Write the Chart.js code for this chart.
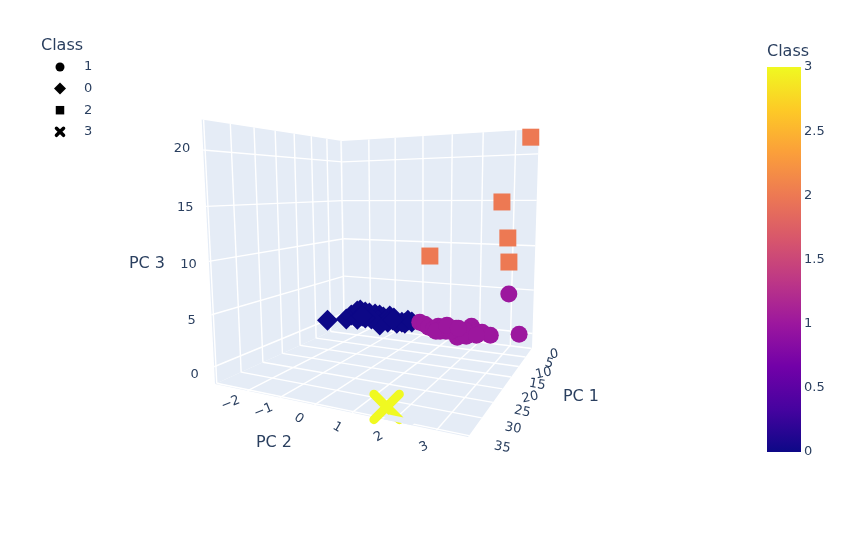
<!DOCTYPE html>
<html>
<head>
<meta charset="utf-8">
<script src="https://cdn.jsdelivr.net/npm/chart.js@4/dist/chart.umd.min.js"></script>
<style>
body { margin: 0; background: #fff; }
</style>
</head>
<body>
<canvas id="chart" width="850" height="555"></canvas>
<script>
// values: [PC 1, PC 2, PC 3]
const class1PC1 = [10.35, 10.35, 10.35, 10.35, 10.35, 10.35, 10.35, 10.35, 10.35, 10.35, 10.35, 10.35, 10.35, 10.35, 10.35, 10.35, 10.35, 10.35, 10.35, 10.35, 10.35, 10.35, 10.35, 10.35, 10.35, 10.35, 10.35, 10.35, 10.35];
const class1PC2 = [0.72, 0.88, 1.01, 1.17, 1.31, 1.46, 1.61, 1.74, 1.86, 1.90, 2.05, 2.20, 2.32, 2.38, 2.49, 2.63, 2.87, 3.67, 3.36, 1.55, 1.37, 2.11, 1.86, 1.24, 1.68, 2.17, 2.47, 1.58, 1.93];
const class1PC3 = [1.85, 1.69, 1.40, 1.24, 1.63, 1.58, 1.54, 1.48, 1.20, 0.66, 1.06, 1.01, 2.04, 1.52, 1.46, 1.52, 1.30, 1.75, 5.78, 1.18, 1.10, 1.52, 1.64, 1.05, 1.23, 0.89, 1.13, 1.85, 1.66];

const class0PC1 = [10.35, 10.35, 10.35, 10.35, 10.35, 10.35, 10.35, 10.35, 10.35, 10.35, 10.35, 10.35, 10.35, 10.35, 10.35, 10.35, 10.35, 10.35, 10.35, 10.35, 10.35, 10.35, 10.35, 10.35, 10.35];
const class0PC2 = [-2.56, -1.84, -1.65, -1.43, -1.32, -1.14, -0.99, -0.79, -0.63, -0.50, -0.69, -0.63, -0.92, -1.14, -1.43, -0.28, -0.14, -0.04, 0.13, 0.33, 0.23, -0.35, -1.25, -0.18, 0.46];
const class0PC3 = [0.83, 1.23, 1.79, 2.35, 2.51, 2.33, 2.27, 2.22, 2.16, 1.97, 1.54, 0.98, 1.58, 1.61, 1.38, 2.17, 1.99, 1.44, 1.62, 1.93, 1.55, 1.44, 1.81, 1.74, 1.76];

const class2PC1 = [3.21, 3.21, 3.21, 3.21, 3.21];
const class2PC2 = [0.52, 3.04, 2.99, 2.79, 3.57];
const class2PC3 = [8.59, 8.36, 10.99, 14.88, 21.59];

const class3PC1 = [33.56];
const class3PC2 = [1.70];
const class3PC3 = [-1.19];

const legendClasses = ["1", "0", "2", "3"];
const pc1Ticks = [0, 5, 10, 15, 20, 25, 30, 35];
const pc2Ticks = [-2, -1, 0, 1, 2, 3];
const pc3Ticks = [0, 5, 10, 15, 20];
const colorbarTicks = [0, 0.5, 1, 1.5, 2, 2.5, 3];

const pc1Range = [-0.36, 35.34];
const pc2Range = [-3.07, 3.67];
const pc3Range = [-1.69, 22.64];

const plasma = ["#0d0887", "#46039f", "#7201a8", "#9c179e", "#bd3786", "#d8576b", "#ed7953", "#fb9f3a", "#fdca26", "#f0f921"];
const ink = "#2a3f5f";
const pane = "#e5ecf6";
const sans = "'DejaVu Sans', Verdana, sans-serif";

// fixed perspective of the 3d scene, u/v/w are the box fractions
const cam = [
    [-194.67, 103.1, -18.4, 345],
    [-56.5, -31.9, -190.3, 325],
    [-0.3008, -0.1577, -0.045, 1],
];

function projectBox(u, v, w) {
    const h = cam.map((r) => r[0] * u + r[1] * v + r[2] * w + r[3]);
    return { x: h[0] / h[2], y: h[1] / h[2] };
}
const toU = (a) => (a - pc1Range[0]) / (pc1Range[1] - pc1Range[0]);
const toV = (a) => (a - pc2Range[0]) / (pc2Range[1] - pc2Range[0]);
const toW = (a) => (a - pc3Range[0]) / (pc3Range[1] - pc3Range[0]);
const project = (a, b, c) => projectBox(toU(a), toV(b), toW(c));
const cloud = (xs, ys, zs) => xs.map((a, i) => project(a, ys[i], zs[i]));

function paneSet(corners, order) {
    return {
        type: "line",
        data: corners.map((c) => projectBox(c[0], c[1], c[2])),
        fill: "shape",
        backgroundColor: pane,
        borderWidth: 0,
        pointRadius: 0,
        order: order,
    };
}

function gridSet(from, to) {
    return {
        type: "line",
        data: [from, to],
        borderColor: "#fff",
        borderWidth: 1.4,
        pointRadius: 0,
        order: 9,
    };
}

const gridSets = [];
pc1Ticks.forEach((t) => {
    const u = toU(t);
    gridSets.push(gridSet(projectBox(u, 0, 0), projectBox(u, 0, 1)));
    gridSets.push(gridSet(projectBox(u, 0, 0), projectBox(u, 1, 0)));
});
pc2Ticks.forEach((t) => {
    const v = toV(t);
    gridSets.push(gridSet(projectBox(0, v, 0), projectBox(0, v, 1)));
    gridSets.push(gridSet(projectBox(0, v, 0), projectBox(1, v, 0)));
});
pc3Ticks.forEach((t) => {
    const w = toW(t);
    gridSets.push(gridSet(projectBox(1, 0, w), projectBox(0, 0, w)));
    gridSets.push(gridSet(projectBox(0, 0, w), projectBox(0, 1, w)));
});

function drawLabel(ctx, text, x, y, font, rot) {
    ctx.save();
    ctx.translate(x, y);
    ctx.rotate(((rot || 0) * Math.PI) / 180);
    ctx.font = font;
    ctx.fillStyle = ink;
    ctx.textAlign = "center";
    ctx.textBaseline = "middle";
    ctx.fillText(text, 0, 0);
    ctx.restore();
}

const pc1Rot = [-10, 15, -12, 10, -12, 12, 10, 10];
const pc2Rot = [-22, -22, 35, 30, -30, -25];

const sceneText = {
    id: "sceneText",
    afterDraw(chart) {
        const ctx = chart.ctx;
        const tickFont = "13px " + sans;
        const titleFont = "16px " + sans;

        pc1Ticks.forEach((t, i) => {
            const p = projectBox(toU(t), 1.1, -0.015);
            drawLabel(ctx, String(t), p.x, p.y, tickFont, pc1Rot[i]);
        });
        pc2Ticks.forEach((t, i) => {
            const p = projectBox(1.08, toV(t) - 0.01, -0.02);
            drawLabel(ctx, String(t).replace("-", "\u2212"), p.x, p.y, tickFont, pc2Rot[i]);
        });
        pc3Ticks.forEach((t) => {
            const p = projectBox(1.1, 0, toW(t));
            drawLabel(ctx, String(t), p.x, p.y, tickFont);
        });
        drawLabel(ctx, "PC 1", 581, 397, titleFont);
        drawLabel(ctx, "PC 2", 274, 443, titleFont);
        drawLabel(ctx, "PC 3", 147, 264, titleFont);

        // legend
        ctx.textAlign = "left";
        ctx.textBaseline = "middle";
        ctx.fillStyle = ink;
        ctx.font = titleFont;
        ctx.fillText("Class", 41, 46);
        const styles = [
            { pointStyle: "circle", radius: 4.5 },
            { pointStyle: "rectRot", radius: 6 },
            { pointStyle: "rect", radius: 6 },
            { pointStyle: "crossRot", radius: 5, borderWidth: 3.5 },
        ];
        legendClasses.forEach((name, i) => {
            const y = 67 + i * 21.6;
            ctx.save();
            ctx.fillStyle = "#000";
            ctx.strokeStyle = "#000";
            ctx.lineWidth = styles[i].borderWidth || 0.01;
            Chart.helpers.drawPoint(ctx, styles[i], 60, y);
            ctx.restore();
            ctx.fillStyle = ink;
            ctx.font = tickFont;
            ctx.fillText(name, 84, y);
        });

        // colorbar
        const top = 67, bottom = 452, left = 767, right = 801;
        const grad = ctx.createLinearGradient(0, bottom, 0, top);
        plasma.forEach((c, i) => grad.addColorStop(i / (plasma.length - 1), c));
        ctx.fillStyle = grad;
        ctx.fillRect(left, top, right - left, bottom - top);
        ctx.fillStyle = ink;
        ctx.font = titleFont;
        ctx.fillText("Class", 767, 52);
        ctx.font = tickFont;
        colorbarTicks.forEach((t) => {
            ctx.fillText(String(t), 804, bottom - (t / 3) * (bottom - top));
        });
    },
};

const roundCaps = {
    id: "roundCaps",
    beforeDatasetsDraw(chart) {
        chart.ctx.lineCap = "round";
    },
};

new Chart(document.getElementById("chart"), {
    type: "scatter",
    data: {
        datasets: [
            // floor patch that hides part of the X, the original cuts it there too
            paneSet([[0.96, 0.72, 0], [1, 0.72, 0], [1, 0.82, 0], [0.96, 0.82, 0]], -1),
            {
                label: "1",
                data: cloud(class1PC1, class1PC2, class1PC3),
                pointStyle: "circle",
                pointRadius: 8.5,
                backgroundColor: plasma[3],
                borderWidth: 0,
                order: 0,
            },
            {
                label: "0",
                data: cloud(class0PC1, class0PC2, class0PC3),
                pointStyle: "rectRot",
                pointRadius: 10.5,
                backgroundColor: plasma[0],
                borderWidth: 0,
                order: 1,
            },
            {
                label: "2",
                data: cloud(class2PC1, class2PC2, class2PC3),
                pointStyle: "rect",
                pointRadius: 12,
                backgroundColor: plasma[6],
                borderWidth: 0,
                order: 1,
            },
            {
                label: "3",
                data: cloud(class3PC1, class3PC2, class3PC3),
                pointStyle: "crossRot",
                pointRadius: 18,
                borderColor: plasma[9],
                borderWidth: 9,
                order: 0,
            },
            ...gridSets,
            paneSet([[0, 0, 0], [1, 0, 0], [1, 0, 1], [0, 0, 1]], 10),
            paneSet([[0, 0, 0], [0, 1, 0], [0, 1, 1], [0, 0, 1]], 10),
            paneSet([[0, 0, 0], [1, 0, 0], [1, 1, 0], [0, 1, 0]], 10),
        ],
    },
    options: {
        responsive: false,
        animation: false,
        events: [],
        layout: { padding: 0, autoPadding: false },
        plugins: { legend: { display: false }, tooltip: { enabled: false } },
        scales: {
            x: { type: "linear", min: 0, max: 850, display: false },
            y: { type: "linear", min: 0, max: 555, reverse: true, display: false },
        },
    },
    plugins: [roundCaps, sceneText],
});
</script>
</body>
</html>
